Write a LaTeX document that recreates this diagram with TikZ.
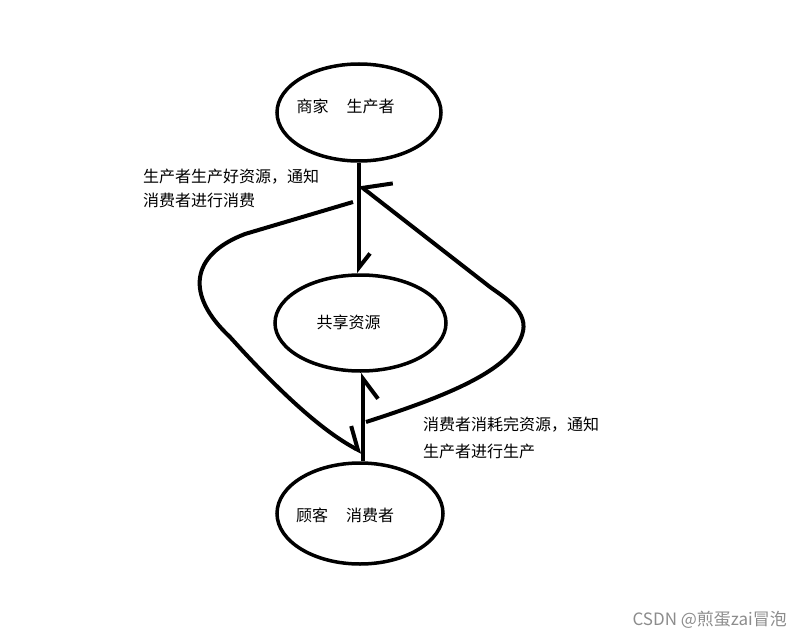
\documentclass[tikz,border=0pt]{standalone}
\usepackage{fontspec}
\newfontfamily\cjk{Noto Sans CJK SC}
\usetikzlibrary{shapes.geometric,arrows.meta}

\begin{document}
\begin{tikzpicture}[x=1pt,y=-1pt]
    \tikzstyle{role}=[draw, ellipse, line width=3.5pt, inner sep=0pt]
    \tikzstyle{roletext}=[font={\cjk\fontsize{16}{24}\selectfont}, inner sep=0pt]
    \tikzstyle{flow}=[line width=4pt]
    \useasboundingbox (0,0) rectangle (802,639);

    % Draw the three ellipses
    \node[role, minimum width=164pt, minimum height=97pt] (producer) at (359,112.5) {};
    \node[role, minimum width=171pt, minimum height=96pt] (shared) at (360.5,323) {};
    \node[role, minimum width=166pt, minimum height=101pt] (consumer) at (360,513.5) {};

    % Add texts inside the ellipses
    \node[roletext] (producertext) at (345.5,106) {商家\hspace{18pt}生产者};
    \node[roletext] (sharedtext) at (348.5,322.5) {共享资源};
    \node[roletext] (consumertext) at (345,515.5) {顾客\hspace{18pt}消费者};

    % Points where the loops meet the straight lines
    \coordinate (topin) at (359,185);
    \coordinate (topout) at (353,202);
    \coordinate (bottomout) at (366,422);
    \coordinate (bottomin) at (362,452);

    % Draw the straight arrows
    \draw[flow, -{Straight Barb[left, length=14pt, width=22pt]}] (producer.south) -- (producer.south |- shared.north);
    \draw[flow, -{Straight Barb[right, length=20pt, width=30pt]}] ([xshift=3pt]consumer.north) -- ([xshift=3pt]consumer.north |- shared.south);

    % Draw the two loops
    \draw[flow, -{Straight Barb[left, length=17pt, width=36pt]}] (topout) -- (245,234)
        .. controls (190,255) and (185,295) .. (230,337)
        .. controls (275,387) and (320,430) .. (bottomin);
    \draw[flow, -{Straight Barb[right, length=21pt, width=44pt]}] (bottomout)
        .. controls (450,395) and (510,370) .. (522,335)
        .. controls (530,312) and (505,298) .. (490,287) -- (topin);

    % Add the notes
    \node[roletext, anchor=west, align=left] (producenote) at (143,188.5) {生产者生产好资源，通知\\消费者进行消费};
    \node[roletext, anchor=west, align=left, font={\cjk\fontsize{16}{27}\selectfont}] (consumenote) at (423,437.5) {消费者消耗完资源，通知\\生产者进行生产};

    % Add the watermark
    \node[font={\cjk\fontsize{17}{17}\selectfont}, text=black!45, inner sep=0pt, anchor=east] (mark) at (787,620) {CSDN @煎蛋zai冒泡};
\end{tikzpicture}
\end{document}
